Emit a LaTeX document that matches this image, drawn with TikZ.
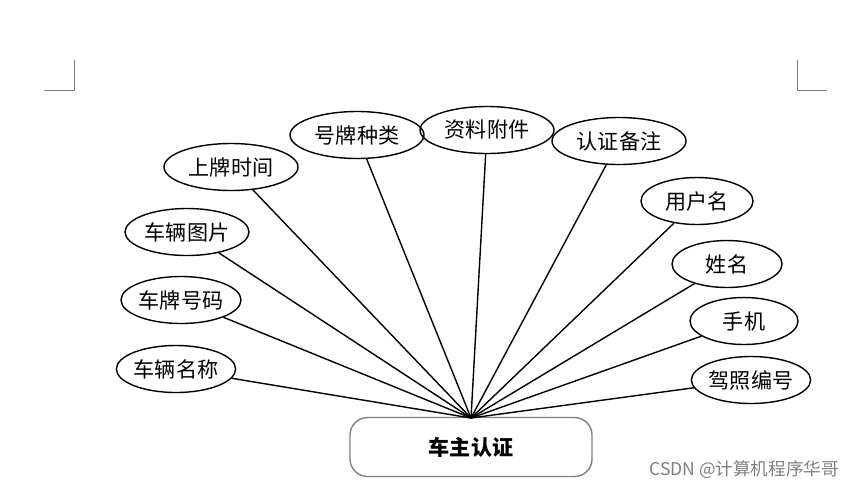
\documentclass[tikz,border=0pt]{standalone}
\usepackage{fontspec}
\setmainfont{Noto Sans CJK SC}
\usetikzlibrary{shapes.geometric}
\begin{document}
\begin{tikzpicture}[x=0.02cm,y=-0.02cm,
  attr/.style={draw,thick,ellipse,inner sep=0pt,font=\fontsize{12}{14}\selectfont},
  link/.style={thick}]
\useasboundingbox (0,0) rectangle (857,491);
\draw[gray] (74,60)--(74,90)--(44,90);
\draw[gray] (797,60)--(797,90)--(827,90);
\node[draw=gray,thick,rounded corners=10pt,minimum width=242*0.02cm,minimum height=59*0.02cm,font=\fontsize{12}{14}\selectfont\bfseries] (c) at (471,447) {车主认证};
\coordinate (h) at (471,418);
\foreach \n/\x/\y/\w/\t in {a/176/369/112/车辆名称, b/181/300/120/车牌号码, d/187/232/124/车辆图片, e/231/167/134/上牌时间, f/357/135/134/号牌种类, g/487/130/134/资料附件, k/619/141/134/认证备注, l/697/201/112/用户名, m/727/264/110/姓名, n/744/321/108/手机, o/751/380/110/驾照编号}{
  \node[attr,minimum width=\w*0.02cm,minimum height=0.94cm] (\n) at (\x,\y) {\t};
  \draw[link] (\n) -- (h);
}
\node[gray,font=\fontsize{10}{12}\selectfont,anchor=east] (w) at (845,470) {CSDN @计算机程序华哥};
\end{tikzpicture}
\end{document}
